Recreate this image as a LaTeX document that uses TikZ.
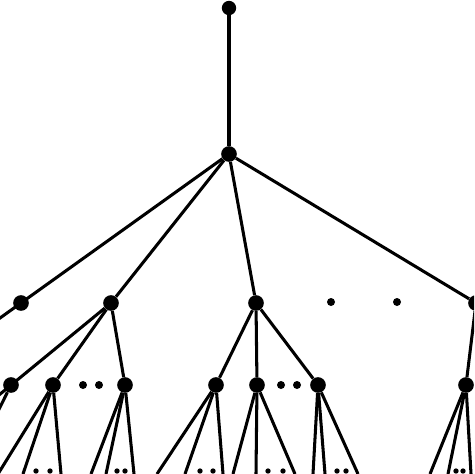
\documentclass[tikz,border=0pt]{standalone}
\usepackage{tikz}
\usetikzlibrary{positioning}

\begin{document}
\begin{tikzpicture}[x=0.03cm, y=-0.03cm]
    % Define styles
    \tikzstyle{vertex}=[circle, fill=black, inner sep=0pt, minimum size=0.47cm]
    \tikzstyle{top vertex}=[vertex, minimum size=0.43cm]
    \tikzstyle{gap dot}=[circle, fill=black, inner sep=0pt, minimum size=0.24cm]
    \tikzstyle{leaf dot}=[circle, fill=black, inner sep=0pt, minimum size=0.16cm]
    \tikzstyle{edge}=[draw=black, line width=2.6pt]

    \useasboundingbox (0,0) rectangle (474,474);
    \clip (0,0) rectangle (474,474);

    % Off-canvas ends
    \coordinate (a0) at (-60,361);
    \coordinate (c0) at (-40,427);
    \coordinate (c1) at (-33,474);

    % Draw the vertices
    \node[top vertex] (root) at (229,8) {};
    \foreach \name/\x/\y in {hub/229/154, a1/21/303, a2/111/303, a3/256/303, a4/476/303,
                             b1/11/385, b2/53/385, b3/125/385, b4/216/385, b5/257/385,
                             b6/318/385, b7/466/385}
        \node[vertex] (\name) at (\x,\y) {};

    % Draw the edges
    \draw[edge] (root) -- (hub);
    \foreach \v in {a0,a2,a3,a4}
        \draw[edge] (hub) -- (\v);
    \draw[edge] (a2) -- (c0);
    \draw[edge] (b1) -- (c1);
    \foreach \v in {b2,b3}
        \draw[edge] (a2) -- (\v);
    \foreach \v in {b4,b5,b6}
        \draw[edge] (a3) -- (\v);
    \draw[edge] (a4) -- (b7);

    % Edges running off the bottom
    \foreach \p/\xa/\xb/\xc in {b2/-2/23/61, b3/91/106/134, b4/157/185/223,
                                b5/233/256/295, b6/313/325/358, b7/430/448/471} {
        \coordinate (\p-l1) at (\xa,474);
        \coordinate (\p-l2) at (\xb,474);
        \coordinate (\p-l3) at (\xc,474);
        \foreach \l in {l1,l2,l3}
            \draw[edge] (\p) -- (\p-\l);
    }

    % Dots for omitted vertices
    \foreach \name/\x/\y in {g1/331/302, g2/397/302, g3/83/385, g4/99/385, g5/281/385, g6/297/385}
        \node[gap dot] (\name) at (\x,\y) {};
    \foreach \x in {36,50,117,125,200,213,268,283,337,346,456,463}
        \node[leaf dot] (d\x) at (\x,471) {};

\end{tikzpicture}
\end{document}
